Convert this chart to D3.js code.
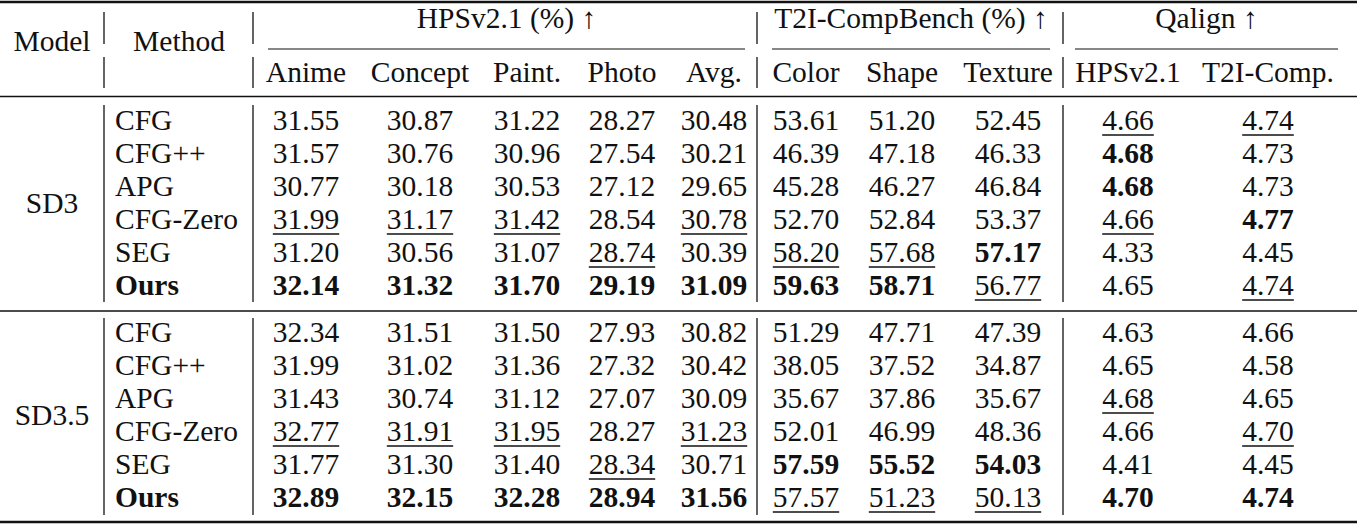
<!DOCTYPE html>
<html><head><meta charset="utf-8">
<script src="https://cdn.jsdelivr.net/npm/d3@7"></script>
<style>body{margin:0;background:#fff}svg text{font-family:"Liberation Serif","Times New Roman",serif;font-size:29.5px;fill:#111}</style>
</head><body><svg id="c" width="1357" height="527"></svg>
<script>
const models = ["SD3", "SD3.5"];
const methods = ["CFG", "CFG++", "APG", "CFG-Zero", "SEG", "Ours"];
const groups = ["HPSv2.1 (%) ↑", "T2I-CompBench (%) ↑", "Qalign ↑"];
const columns = ["Anime", "Concept", "Paint.", "Photo", "Avg.", "Color", "Shape", "Texture", "HPSv2.1", "T2I-Comp."];
const sd3Values = [
  ["31.55","30.87","31.22","28.27","30.48","53.61","51.20","52.45","4.66","4.74"],
  ["31.57","30.76","30.96","27.54","30.21","46.39","47.18","46.33","4.68","4.73"],
  ["30.77","30.18","30.53","27.12","29.65","45.28","46.27","46.84","4.68","4.73"],
  ["31.99","31.17","31.42","28.54","30.78","52.70","52.84","53.37","4.66","4.77"],
  ["31.20","30.56","31.07","28.74","30.39","58.20","57.68","57.17","4.33","4.45"],
  ["32.14","31.32","31.70","29.19","31.09","59.63","58.71","56.77","4.65","4.74"]];
const sd3Marks = ["nnnnnnnnuu","nnnnnnnnbn","nnnnnnnnbn","uuunununub".replace(/^.*$/,"uuununnnub"),"nnnunuubnn","bbbbbbbunu"];
const sd35Values = [
  ["32.34","31.51","31.50","27.93","30.82","51.29","47.71","47.39","4.63","4.66"],
  ["31.99","31.02","31.36","27.32","30.42","38.05","37.52","34.87","4.65","4.58"],
  ["31.43","30.74","31.12","27.07","30.09","35.67","37.86","35.67","4.68","4.65"],
  ["32.77","31.91","31.95","28.27","31.23","52.01","46.99","48.36","4.66","4.70"],
  ["31.77","31.30","31.40","28.34","30.71","57.59","55.52","54.03","4.41","4.45"],
  ["32.89","32.15","32.28","28.94","31.56","57.57","51.23","50.13","4.70","4.74"]];
const sd35Marks = ["nnnnnnnnnn","nnnnnnnnnn","nnnnnnnnun","uuunuuuuuu".replace(/^.*$/,"uuununnnnu"),"nnnunbbbnn","bbbbbuuubb"];

const svg = d3.select("#c");
const colX = d3.scaleOrdinal().domain(columns).range([306,420,527,622,714,806,902,1008,1128,1268]);
const rowY = d3.scaleLinear().domain([0,5]).range([120,285]);
const blockOff = [0, 212];
const line = (x1,y1,x2,y2,w)=>svg.append("line").attr("x1",x1).attr("y1",y1).attr("x2",x2).attr("y2",y2).attr("stroke","#111").attr("stroke-width",w||1.3);

line(0,2,1357,2,2.4); line(0,96.5,1357,96.5,1.6); line(0,311,1357,311,1.4); line(0,522,1357,522,2.4);
const vx = [104,253,757,1063];
vx.forEach(x=>{ line(x,12,x,44); line(x,57,x,88); line(x,105,x,302); line(x,318,x,515); });
const txt=(x,y,s,anchor,bold)=>svg.append("text").attr("x",x).attr("y",y).attr("text-anchor",anchor||"middle").attr("font-weight",bold?"bold":null).text(s);
txt(52,51,"Model"); txt(179,51,"Method");
const gx=[[268,745],[772,1050],[1075,1338]];
groups.forEach((g,i)=>{ txt((gx[i][0]+gx[i][1])/2,28,g); line(gx[i][0],49,gx[i][1],49,1.2); });
columns.forEach(c=>txt(colX(c),82,c));
[[sd3Values,sd3Marks],[sd35Values,sd35Marks]].forEach(([vals,marks],b)=>{
  txt(52, rowY(2.5)+blockOff[b]+10, models[b]);
  methods.forEach((m,r)=>{
    const y=rowY(r)+blockOff[b]+10;
    txt(115,y,m,"start",m==="Ours");
    vals[r].forEach((v,c)=>{
      const mk=marks[r][c];
      const t=txt(colX(columns[c]),y,v,"middle",mk==="b");
      if(mk==="u"){ const w=t.node().getComputedTextLength(); line(colX(columns[c])-w/2,y+5,colX(columns[c])+w/2,y+5,1.3); }
    });
  });
});
</script></body></html>
